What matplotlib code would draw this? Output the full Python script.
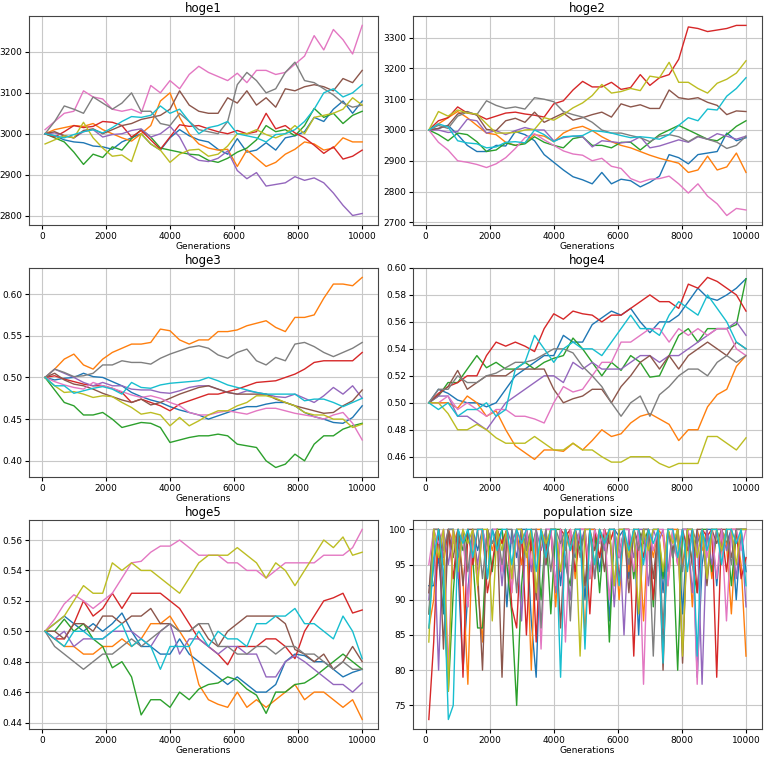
import numpy as np
import matplotlib
matplotlib.use("Agg")
from matplotlib import pyplot as plt

# generations run from 100 to 10000; each series is spread evenly over that range
gen_first = 100
gen_last = 10000

# hoge1 (series in default colour order C0..C9)
hoge1_c0 = [3000, 2995, 2985, 2980, 2978, 2970, 2968, 2962, 2980, 2990, 3000, 2975, 2960, 2990, 3010, 2995, 2985, 2980, 2962, 2950, 2988, 2955, 2960, 2978, 2960, 2990, 2995, 3005, 3040, 3030, 3060, 3080, 3050, 3080]
hoge1_c1 = [3000, 3010, 3015, 3020, 3018, 3025, 3010, 3000, 2990, 2982, 3000, 3020, 3080, 3100, 3040, 3000, 2975, 2965, 2960, 2962, 2920, 2960, 2940, 2920, 2930, 2950, 2962, 2980, 2975, 2960, 2965, 2990, 2980, 2980]
hoge1_c2 = [3000, 2990, 2980, 2955, 2925, 2950, 2942, 2968, 2960, 2988, 3010, 2992, 2965, 2960, 2955, 2950, 2948, 2935, 2930, 2940, 2955, 2965, 2985, 3020, 3005, 3010, 2995, 3020, 3062, 3040, 3050, 3025, 3045, 3055]
hoge1_c3 = [3000, 2992, 3005, 3020, 3015, 3018, 3030, 3028, 3020, 2992, 3008, 2985, 2962, 2992, 3022, 3018, 3020, 3012, 3005, 3000, 3008, 3000, 3005, 3050, 3012, 3020, 3002, 2990, 2972, 2952, 2968, 2938, 2945, 2960]
hoge1_c4 = [3000, 3002, 2995, 2990, 3005, 3010, 2992, 2998, 3000, 3008, 3012, 2992, 3000, 3018, 2992, 2948, 2935, 2932, 2940, 2958, 2910, 2890, 2905, 2872, 2876, 2880, 2895, 2886, 2892, 2880, 2855, 2825, 2800, 2805]
hoge1_c5 = [3000, 3005, 2995, 2990, 3008, 3012, 3000, 3010, 3020, 3025, 3035, 3040, 3045, 3060, 3105, 3070, 3055, 3050, 3050, 3088, 3075, 3105, 3070, 3088, 3065, 3110, 3105, 3115, 3120, 3115, 3105, 3135, 3125, 3155]
hoge1_c6 = [3010, 3030, 3050, 3055, 3105, 3090, 3085, 3060, 3055, 3060, 3050, 3118, 3100, 3130, 3110, 3145, 3165, 3150, 3140, 3130, 3148, 3125, 3155, 3155, 3145, 3150, 3170, 3190, 3240, 3205, 3255, 3230, 3195, 3265]
hoge1_c7 = [3000, 3030, 3068, 3060, 3050, 3090, 3075, 3060, 3075, 3100, 3055, 3055, 3025, 3020, 3050, 3030, 3010, 3005, 3000, 3030, 3120, 3150, 3130, 3100, 3110, 3150, 3175, 3130, 3125, 3110, 3095, 3075, 3065, 3070]
hoge1_c8 = [2975, 2985, 2995, 2990, 3028, 2990, 2965, 2945, 2948, 2932, 3000, 2975, 2960, 2930, 2950, 2960, 2962, 2945, 2950, 2970, 3000, 3000, 3010, 2998, 2990, 3000, 3020, 3000, 3040, 3045, 3050, 3060, 3088, 3070]
hoge1_c9 = [3000, 2995, 2990, 2998, 3005, 3010, 3002, 3015, 3030, 3042, 3040, 3045, 3068, 3050, 3060, 3030, 3000, 3015, 3020, 3030, 3000, 2995, 2990, 2980, 2998, 3000, 3010, 3030, 3060, 3100, 3110, 3090, 3100, 3120]

# hoge2
hoge2_c0 = [3000, 3005, 3015, 2985, 2950, 2930, 2930, 2950, 2948, 2995, 2985, 2965, 2920, 2895, 2870, 2848, 2838, 2825, 2862, 2825, 2840, 2835, 2815, 2830, 2850, 2920, 2910, 2890, 2920, 2925, 2930, 2990, 2965, 2975]
hoge2_c1 = [3000, 3020, 3040, 3060, 3040, 3015, 2990, 2985, 2960, 2950, 2958, 2985, 2980, 2962, 2990, 3005, 3012, 2998, 2978, 2962, 2950, 2942, 2930, 2918, 2908, 2900, 2892, 2862, 2870, 2915, 2870, 2880, 2925, 2862]
hoge2_c2 = [3000, 2985, 2965, 2990, 2985, 2962, 2930, 2935, 2958, 2950, 2955, 2978, 2960, 2950, 2942, 2972, 2978, 2950, 2950, 2942, 2960, 2960, 2935, 2960, 2985, 3000, 3015, 3000, 2985, 2970, 2965, 2985, 3012, 3030]
hoge2_c3 = [3000, 3030, 3040, 3075, 3055, 3050, 3035, 3045, 3055, 3058, 3052, 3048, 3042, 3085, 3095, 3130, 3158, 3140, 3140, 3155, 3132, 3138, 3180, 3145, 3170, 3180, 3230, 3335, 3330, 3320, 3325, 3330, 3340, 3340]
hoge2_c4 = [3000, 3000, 2992, 2995, 3035, 3030, 2990, 2998, 2985, 2998, 3008, 3000, 3000, 2965, 2975, 2980, 2978, 2945, 2965, 2962, 2958, 2962, 2978, 2942, 2948, 2958, 2968, 2960, 2978, 2970, 2988, 2980, 2970, 2980]
hoge2_c5 = [3000, 3005, 3015, 3052, 3060, 3048, 3002, 2998, 3030, 3038, 3025, 3058, 3025, 3040, 3055, 3032, 3040, 3050, 3058, 3042, 3085, 3075, 3082, 3070, 3070, 3130, 3105, 3100, 3105, 3090, 3080, 3050, 3062, 3060]
hoge2_c6 = [3000, 2960, 2935, 2900, 2895, 2888, 2878, 2890, 2910, 2940, 2975, 2988, 2968, 2950, 2932, 2922, 2918, 2900, 2908, 2882, 2875, 2842, 2830, 2840, 2842, 2850, 2825, 2795, 2825, 2785, 2760, 2722, 2745, 2740]
hoge2_c7 = [3000, 3015, 3005, 3045, 3058, 3050, 3095, 3080, 3070, 3075, 3068, 3105, 3100, 3092, 3060, 3050, 3042, 3025, 3000, 2990, 2990, 2982, 2975, 2962, 2980, 2985, 2978, 2962, 2980, 2970, 2960, 2940, 2950, 2980]
hoge2_c8 = [3000, 3060, 3045, 3065, 3055, 3052, 3020, 2990, 2990, 2992, 3000, 3002, 3040, 3032, 3050, 3072, 3088, 3112, 3148, 3120, 3125, 3135, 3128, 3175, 3170, 3220, 3155, 3155, 3135, 3120, 3152, 3165, 3185, 3225]
hoge2_c9 = [3000, 3020, 3010, 2965, 2958, 2955, 2942, 2945, 2960, 2962, 2958, 3000, 2985, 2962, 2978, 2980, 2982, 2998, 2995, 2990, 2982, 2975, 2978, 2975, 2970, 2985, 3015, 3040, 3030, 3068, 3065, 3110, 3135, 3170]

# hoge3
hoge3_c0 = [0.500, 0.497, 0.499, 0.500, 0.505, 0.501, 0.500, 0.495, 0.490, 0.482, 0.477, 0.473, 0.470, 0.465, 0.461, 0.458, 0.455, 0.450, 0.454, 0.458, 0.462, 0.465, 0.465, 0.468, 0.470, 0.470, 0.466, 0.458, 0.453, 0.450, 0.446, 0.445, 0.452, 0.466]
hoge3_c1 = [0.500, 0.510, 0.522, 0.528, 0.515, 0.510, 0.522, 0.530, 0.535, 0.540, 0.540, 0.542, 0.558, 0.556, 0.545, 0.540, 0.545, 0.545, 0.555, 0.555, 0.557, 0.562, 0.565, 0.568, 0.560, 0.555, 0.572, 0.572, 0.575, 0.595, 0.612, 0.612, 0.610, 0.620]
hoge3_c2 = [0.500, 0.485, 0.470, 0.466, 0.455, 0.455, 0.458, 0.450, 0.440, 0.443, 0.446, 0.445, 0.440, 0.422, 0.425, 0.428, 0.430, 0.430, 0.432, 0.430, 0.420, 0.418, 0.416, 0.400, 0.392, 0.396, 0.408, 0.400, 0.420, 0.430, 0.430, 0.438, 0.442, 0.445]
hoge3_c3 = [0.500, 0.502, 0.498, 0.495, 0.492, 0.490, 0.490, 0.487, 0.482, 0.470, 0.474, 0.470, 0.466, 0.460, 0.468, 0.472, 0.476, 0.480, 0.480, 0.483, 0.486, 0.490, 0.494, 0.495, 0.496, 0.500, 0.504, 0.510, 0.518, 0.520, 0.520, 0.520, 0.520, 0.530]
hoge3_c4 = [0.500, 0.510, 0.505, 0.500, 0.494, 0.490, 0.494, 0.490, 0.490, 0.486, 0.485, 0.485, 0.482, 0.481, 0.484, 0.488, 0.490, 0.490, 0.486, 0.482, 0.480, 0.484, 0.482, 0.480, 0.477, 0.476, 0.480, 0.475, 0.470, 0.478, 0.488, 0.480, 0.490, 0.475]
hoge3_c5 = [0.500, 0.505, 0.497, 0.492, 0.490, 0.486, 0.481, 0.477, 0.473, 0.470, 0.474, 0.467, 0.470, 0.475, 0.480, 0.484, 0.488, 0.490, 0.486, 0.482, 0.480, 0.480, 0.480, 0.480, 0.474, 0.470, 0.466, 0.463, 0.460, 0.457, 0.458, 0.466, 0.472, 0.485]
hoge3_c6 = [0.500, 0.495, 0.491, 0.488, 0.486, 0.494, 0.490, 0.487, 0.483, 0.479, 0.476, 0.478, 0.475, 0.470, 0.466, 0.458, 0.455, 0.455, 0.458, 0.460, 0.458, 0.456, 0.460, 0.463, 0.463, 0.460, 0.457, 0.455, 0.453, 0.450, 0.455, 0.458, 0.445, 0.425]
hoge3_c7 = [0.500, 0.510, 0.506, 0.501, 0.502, 0.505, 0.515, 0.515, 0.520, 0.518, 0.518, 0.516, 0.523, 0.528, 0.532, 0.536, 0.538, 0.535, 0.527, 0.523, 0.530, 0.534, 0.520, 0.515, 0.524, 0.520, 0.540, 0.542, 0.537, 0.530, 0.525, 0.530, 0.535, 0.542]
hoge3_c8 = [0.500, 0.490, 0.482, 0.483, 0.480, 0.476, 0.478, 0.477, 0.470, 0.464, 0.456, 0.458, 0.455, 0.442, 0.452, 0.442, 0.448, 0.455, 0.460, 0.460, 0.466, 0.470, 0.478, 0.478, 0.475, 0.470, 0.466, 0.458, 0.455, 0.455, 0.450, 0.450, 0.440, 0.444]
hoge3_c9 = [0.500, 0.490, 0.490, 0.481, 0.484, 0.487, 0.489, 0.486, 0.480, 0.494, 0.488, 0.487, 0.491, 0.493, 0.494, 0.495, 0.496, 0.500, 0.496, 0.491, 0.488, 0.485, 0.482, 0.480, 0.480, 0.480, 0.480, 0.472, 0.474, 0.474, 0.470, 0.465, 0.470, 0.475]

# hoge4
hoge4_c0 = [0.500, 0.510, 0.507, 0.502, 0.500, 0.500, 0.497, 0.500, 0.510, 0.520, 0.525, 0.530, 0.535, 0.535, 0.550, 0.545, 0.545, 0.558, 0.563, 0.568, 0.565, 0.570, 0.560, 0.552, 0.560, 0.560, 0.565, 0.575, 0.585, 0.578, 0.576, 0.580, 0.585, 0.592]
hoge4_c1 = [0.500, 0.500, 0.500, 0.496, 0.505, 0.500, 0.490, 0.494, 0.480, 0.468, 0.463, 0.458, 0.465, 0.465, 0.464, 0.470, 0.465, 0.472, 0.480, 0.475, 0.477, 0.485, 0.490, 0.492, 0.488, 0.484, 0.472, 0.480, 0.480, 0.497, 0.506, 0.510, 0.527, 0.535]
hoge4_c2 = [0.500, 0.505, 0.515, 0.515, 0.525, 0.535, 0.526, 0.530, 0.525, 0.525, 0.530, 0.525, 0.530, 0.533, 0.535, 0.548, 0.540, 0.530, 0.520, 0.530, 0.524, 0.535, 0.530, 0.519, 0.520, 0.535, 0.550, 0.555, 0.545, 0.555, 0.555, 0.555, 0.558, 0.592]
hoge4_c3 = [0.500, 0.507, 0.512, 0.515, 0.520, 0.520, 0.535, 0.545, 0.542, 0.545, 0.542, 0.538, 0.555, 0.566, 0.562, 0.568, 0.566, 0.565, 0.560, 0.565, 0.565, 0.570, 0.575, 0.580, 0.575, 0.575, 0.570, 0.588, 0.585, 0.593, 0.590, 0.585, 0.580, 0.568]
hoge4_c4 = [0.500, 0.505, 0.505, 0.490, 0.490, 0.485, 0.480, 0.490, 0.500, 0.505, 0.510, 0.515, 0.520, 0.520, 0.515, 0.530, 0.525, 0.530, 0.525, 0.525, 0.525, 0.530, 0.535, 0.535, 0.530, 0.535, 0.535, 0.540, 0.545, 0.550, 0.555, 0.555, 0.560, 0.550]
hoge4_c5 = [0.500, 0.506, 0.512, 0.524, 0.510, 0.515, 0.520, 0.520, 0.520, 0.525, 0.525, 0.525, 0.525, 0.510, 0.500, 0.503, 0.505, 0.510, 0.510, 0.500, 0.512, 0.520, 0.530, 0.535, 0.525, 0.535, 0.525, 0.535, 0.540, 0.545, 0.540, 0.535, 0.545, 0.540]
hoge4_c6 = [0.500, 0.500, 0.505, 0.495, 0.500, 0.495, 0.490, 0.495, 0.495, 0.490, 0.490, 0.488, 0.485, 0.500, 0.512, 0.508, 0.510, 0.520, 0.530, 0.530, 0.545, 0.545, 0.550, 0.555, 0.555, 0.545, 0.555, 0.550, 0.555, 0.550, 0.555, 0.555, 0.540, 0.535]
hoge4_c7 = [0.500, 0.510, 0.510, 0.520, 0.515, 0.515, 0.520, 0.522, 0.526, 0.530, 0.530, 0.532, 0.536, 0.540, 0.540, 0.537, 0.527, 0.520, 0.512, 0.500, 0.490, 0.500, 0.505, 0.490, 0.506, 0.512, 0.520, 0.525, 0.525, 0.520, 0.530, 0.535, 0.530, 0.535]
hoge4_c8 = [0.500, 0.500, 0.492, 0.480, 0.480, 0.484, 0.480, 0.474, 0.470, 0.470, 0.470, 0.475, 0.470, 0.465, 0.465, 0.470, 0.465, 0.465, 0.460, 0.456, 0.456, 0.460, 0.460, 0.460, 0.455, 0.452, 0.455, 0.455, 0.455, 0.475, 0.475, 0.470, 0.465, 0.474]
hoge4_c9 = [0.500, 0.495, 0.500, 0.490, 0.495, 0.495, 0.500, 0.490, 0.495, 0.525, 0.530, 0.550, 0.540, 0.530, 0.540, 0.545, 0.540, 0.540, 0.535, 0.545, 0.555, 0.565, 0.555, 0.555, 0.550, 0.565, 0.575, 0.570, 0.565, 0.580, 0.570, 0.560, 0.545, 0.540]

# hoge5
hoge5_c0 = [0.500, 0.505, 0.510, 0.505, 0.500, 0.505, 0.500, 0.505, 0.512, 0.500, 0.490, 0.490, 0.485, 0.485, 0.495, 0.485, 0.480, 0.475, 0.470, 0.465, 0.470, 0.465, 0.460, 0.460, 0.465, 0.480, 0.485, 0.484, 0.480, 0.480, 0.475, 0.470, 0.473, 0.475]
hoge5_c1 = [0.500, 0.495, 0.490, 0.490, 0.485, 0.485, 0.490, 0.490, 0.495, 0.490, 0.495, 0.505, 0.505, 0.510, 0.500, 0.490, 0.465, 0.455, 0.452, 0.450, 0.460, 0.450, 0.455, 0.450, 0.455, 0.460, 0.465, 0.455, 0.460, 0.460, 0.455, 0.450, 0.455, 0.442]
hoge5_c2 = [0.500, 0.500, 0.508, 0.500, 0.505, 0.495, 0.490, 0.476, 0.480, 0.470, 0.445, 0.455, 0.455, 0.450, 0.460, 0.455, 0.462, 0.465, 0.466, 0.470, 0.468, 0.462, 0.458, 0.446, 0.460, 0.460, 0.465, 0.466, 0.470, 0.475, 0.480, 0.485, 0.480, 0.475]
hoge5_c3 = [0.500, 0.495, 0.495, 0.505, 0.520, 0.510, 0.515, 0.525, 0.515, 0.525, 0.525, 0.525, 0.525, 0.520, 0.515, 0.505, 0.495, 0.490, 0.485, 0.478, 0.490, 0.490, 0.490, 0.495, 0.495, 0.490, 0.482, 0.500, 0.510, 0.520, 0.522, 0.525, 0.512, 0.514]
hoge5_c4 = [0.500, 0.495, 0.500, 0.490, 0.495, 0.495, 0.495, 0.500, 0.500, 0.500, 0.495, 0.490, 0.500, 0.505, 0.485, 0.495, 0.495, 0.490, 0.485, 0.490, 0.490, 0.485, 0.485, 0.470, 0.470, 0.480, 0.484, 0.480, 0.475, 0.470, 0.465, 0.465, 0.460, 0.466]
hoge5_c5 = [0.500, 0.500, 0.495, 0.505, 0.505, 0.500, 0.510, 0.510, 0.505, 0.510, 0.510, 0.515, 0.505, 0.505, 0.500, 0.500, 0.505, 0.495, 0.490, 0.500, 0.505, 0.510, 0.510, 0.510, 0.510, 0.505, 0.488, 0.485, 0.480, 0.485, 0.475, 0.480, 0.490, 0.480]
hoge5_c6 = [0.500, 0.508, 0.518, 0.524, 0.520, 0.515, 0.520, 0.525, 0.535, 0.545, 0.546, 0.552, 0.556, 0.556, 0.560, 0.555, 0.550, 0.550, 0.550, 0.545, 0.545, 0.540, 0.540, 0.535, 0.540, 0.545, 0.545, 0.545, 0.545, 0.550, 0.550, 0.550, 0.555, 0.567]
hoge5_c7 = [0.500, 0.490, 0.485, 0.480, 0.475, 0.480, 0.485, 0.485, 0.490, 0.495, 0.490, 0.495, 0.500, 0.505, 0.500, 0.500, 0.505, 0.505, 0.490, 0.490, 0.485, 0.485, 0.490, 0.490, 0.485, 0.490, 0.490, 0.485, 0.485, 0.480, 0.475, 0.480, 0.475, 0.475]
hoge5_c8 = [0.500, 0.505, 0.510, 0.520, 0.530, 0.525, 0.525, 0.545, 0.540, 0.545, 0.540, 0.540, 0.535, 0.530, 0.525, 0.535, 0.545, 0.550, 0.550, 0.550, 0.555, 0.550, 0.545, 0.535, 0.545, 0.540, 0.530, 0.540, 0.550, 0.560, 0.555, 0.562, 0.550, 0.552]
hoge5_c9 = [0.500, 0.495, 0.490, 0.500, 0.500, 0.495, 0.495, 0.500, 0.505, 0.490, 0.495, 0.490, 0.475, 0.490, 0.490, 0.490, 0.500, 0.490, 0.500, 0.495, 0.495, 0.490, 0.505, 0.505, 0.510, 0.510, 0.515, 0.505, 0.505, 0.500, 0.495, 0.510, 0.500, 0.482]

# population size
pop_c0 = [92, 92, 96, 88, 100, 100, 94, 80, 91, 100, 97, 100, 93, 100, 98, 100, 89, 100, 96, 100, 100, 87, 79, 100, 95, 100, 100, 92, 100, 98, 96, 100, 90, 100, 100, 94, 100, 87, 100, 99, 100, 93, 100, 85, 100, 97, 100, 100, 91, 100, 96, 100, 88, 100, 100, 79, 95, 100, 100, 92, 100, 98, 100, 90, 100, 94]
pop_c1 = [86, 90, 100, 95, 100, 98, 100, 93, 78, 100, 92, 84, 100, 97, 100, 98, 100, 91, 100, 95, 100, 80, 100, 100, 96, 100, 89, 100, 97, 100, 93, 100, 85, 100, 100, 96, 100, 98, 100, 90, 100, 94, 100, 100, 87, 100, 96, 100, 99, 92, 100, 100, 95, 100, 89, 100, 97, 100, 93, 100, 100, 98, 88, 100, 95, 82]
pop_c2 = [88, 95, 100, 91, 77, 91, 100, 97, 100, 96, 86, 86, 100, 94, 100, 100, 95, 88, 75, 92, 100, 97, 100, 90, 100, 88, 100, 100, 95, 92, 100, 97, 100, 93, 100, 91, 100, 84, 100, 96, 100, 100, 93, 100, 98, 100, 89, 100, 93, 100, 97, 80, 100, 100, 95, 91, 100, 100, 94, 100, 97, 100, 92, 100, 100, 100]
pop_c3 = [73, 84, 100, 96, 100, 93, 100, 79, 100, 95, 100, 100, 91, 95, 100, 98, 100, 89, 86, 100, 85, 100, 84, 100, 97, 100, 92, 100, 99, 100, 94, 100, 100, 88, 100, 96, 100, 98, 100, 93, 100, 100, 82, 100, 96, 100, 90, 100, 83, 100, 100, 95, 100, 97, 100, 91, 100, 99, 100, 79, 100, 94, 100, 100, 93, 96]
pop_c4 = [90, 100, 80, 100, 95, 100, 93, 100, 89, 100, 95, 100, 97, 100, 100, 92, 100, 98, 100, 87, 100, 94, 100, 97, 100, 100, 91, 100, 96, 90, 100, 98, 100, 100, 93, 100, 97, 100, 89, 100, 85, 100, 96, 100, 100, 92, 100, 98, 100, 94, 100, 96, 100, 100, 91, 100, 78, 100, 95, 100, 100, 97, 100, 93, 100, 89]
pop_c5 = [91, 100, 100, 83, 100, 96, 100, 92, 100, 100, 94, 80, 100, 98, 100, 79, 100, 93, 100, 100, 97, 100, 90, 100, 95, 100, 100, 86, 100, 98, 100, 100, 92, 100, 97, 100, 94, 100, 100, 96, 100, 91, 100, 98, 100, 100, 93, 100, 80, 100, 97, 100, 81, 100, 95, 100, 100, 92, 100, 98, 100, 100, 96, 100, 100, 100]
pop_c6 = [95, 100, 98, 100, 80, 100, 96, 100, 89, 100, 93, 100, 97, 100, 100, 94, 100, 91, 100, 98, 100, 95, 100, 83, 100, 100, 92, 100, 84, 100, 97, 100, 100, 93, 100, 98, 100, 90, 100, 96, 100, 100, 94, 100, 78, 100, 97, 100, 100, 92, 100, 95, 100, 100, 98, 78, 100, 96, 100, 93, 100, 87, 100, 100, 97, 100]
pop_c7 = [88, 100, 100, 97, 100, 100, 96, 100, 94, 100, 100, 93, 100, 98, 100, 95, 100, 100, 91, 100, 97, 100, 100, 86, 100, 94, 100, 98, 100, 87, 100, 96, 100, 100, 93, 100, 98, 100, 92, 100, 100, 95, 100, 97, 100, 100, 82, 100, 86, 100, 96, 100, 94, 100, 100, 98, 100, 93, 100, 100, 97, 100, 95, 100, 100, 100]
pop_c8 = [84, 100, 96, 100, 77, 100, 94, 100, 98, 100, 92, 100, 100, 87, 100, 97, 100, 93, 100, 100, 96, 100, 91, 100, 98, 100, 100, 94, 100, 97, 100, 82, 100, 100, 95, 100, 98, 100, 92, 100, 100, 96, 100, 88, 100, 97, 100, 100, 94, 100, 98, 100, 82, 100, 100, 96, 100, 93, 100, 100, 97, 100, 100, 95, 100, 100]
pop_c9 = [86, 96, 100, 94, 73, 75, 100, 98, 100, 96, 100, 100, 93, 100, 97, 100, 100, 95, 100, 98, 100, 100, 94, 100, 96, 100, 100, 79, 100, 97, 100, 100, 83, 100, 95, 100, 98, 100, 100, 92, 100, 97, 100, 100, 95, 100, 98, 100, 81, 100, 100, 96, 100, 94, 100, 82, 100, 97, 100, 100, 95, 100, 100, 98, 100, 92]

titles = ["hoge1", "hoge2", "hoge3", "hoge4", "hoge5", "population size"]
panels = [
    [hoge1_c0, hoge1_c1, hoge1_c2, hoge1_c3, hoge1_c4, hoge1_c5, hoge1_c6, hoge1_c7, hoge1_c8, hoge1_c9],
    [hoge2_c0, hoge2_c1, hoge2_c2, hoge2_c3, hoge2_c4, hoge2_c5, hoge2_c6, hoge2_c7, hoge2_c8, hoge2_c9],
    [hoge3_c0, hoge3_c1, hoge3_c2, hoge3_c3, hoge3_c4, hoge3_c5, hoge3_c6, hoge3_c7, hoge3_c8, hoge3_c9],
    [hoge4_c0, hoge4_c1, hoge4_c2, hoge4_c3, hoge4_c4, hoge4_c5, hoge4_c6, hoge4_c7, hoge4_c8, hoge4_c9],
    [hoge5_c0, hoge5_c1, hoge5_c2, hoge5_c3, hoge5_c4, hoge5_c5, hoge5_c6, hoge5_c7, hoge5_c8, hoge5_c9],
    [pop_c0, pop_c1, pop_c2, pop_c3, pop_c4, pop_c5, pop_c6, pop_c7, pop_c8, pop_c9],
]

fig, axes = plt.subplots(3, 2, figsize=(7.68, 7.57), dpi=100)
fig.subplots_adjust(left=0.038, right=0.992, top=0.979, bottom=0.037,
                    wspace=0.1, hspace=0.205)

for ax, title, series in zip(axes.flat, titles, panels):
    for vals in series:
        gens = np.linspace(gen_first, gen_last, len(vals))
        ax.plot(gens, vals, lw=1.0)
    ax.set_title(title, fontsize=8.5, pad=3)
    ax.set_xlabel("Generations", fontsize=6.5, labelpad=1)
    ax.tick_params(labelsize=6.5, length=3, pad=2)
    ax.grid(True, color="#c8c8c8")
    for sp in ax.spines.values():
        sp.set_color("#444444")

fig.savefig("out.png", dpi=100)
